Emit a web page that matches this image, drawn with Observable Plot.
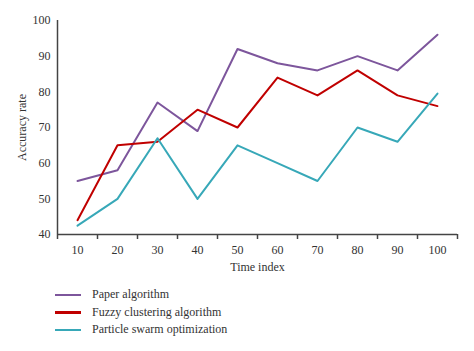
<!DOCTYPE html>
<html><head><meta charset="utf-8">
<script src="https://cdn.jsdelivr.net/npm/d3@7"></script>
<script src="https://cdn.jsdelivr.net/npm/@observablehq/plot@0.6"></script>
<style>
body{margin:0;background:#fff;font-family:"Liberation Serif","DejaVu Serif",serif;}
#legend{margin-left:55px;margin-top:4px;font-size:12px;color:#333;}
.item{display:flex;align-items:center;height:17.5px;}
.sw{width:26px;height:2.5px;margin-right:11px;}
</style></head><body>
<div id="chart"></div>
<div id="legend"></div>
<script>
const timeIndex = [10,20,30,40,50,60,70,80,90,100];
const paper = [55,58,77,69,92,88,86,90,86,96];
const fuzzy = [44,65,66,75,70,84,79,86,79,76];
const pso = [42.5,50,67,50,65,60,55,70,66,79.5];
const seriesNames = ["Paper algorithm","Fuzzy clustering algorithm","Particle swarm optimization"];
const colors = ["#7d569c","#c00000","#37a8b8"];
const yTicks = [40,50,60,70,80,90,100];
const bandEdges = [5,15,25,35,45,55,65,75,85,95,105];

const allSeries = [paper,fuzzy,pso];
const data = [];
allSeries.forEach((vals,i)=>vals.forEach((v,j)=>data.push({t:timeIndex[j],v,s:seriesNames[i]})));

const chart = Plot.plot({
  width:474, height:282,
  marginLeft:57, marginRight:17, marginTop:20, marginBottom:48,
  style:{fontFamily:"'Liberation Serif','DejaVu Serif',serif",fontSize:"12px",color:"#333"},
  x:{domain:[5,105]},
  y:{domain:[40,100]},
  color:{domain:seriesNames,range:colors},
  marks:[
    Plot.axisY({ticks:yTicks,tickSize:0,tickPadding:7,label:"Accuracy rate",labelAnchor:"center",labelOffset:40,labelArrow:"none",fontSize:12}),
    Plot.axisX({ticks:bandEdges,tickSize:5,tickFormat:()=>"",label:null,stroke:"#444",strokeWidth:1.5}),
    Plot.axisX({ticks:timeIndex,tickSize:0,tickPadding:11,label:"Time index",labelAnchor:"center",labelOffset:36,labelArrow:"none",fontSize:12}),
    Plot.ruleX([5],{stroke:"#444",strokeWidth:1.5}),
    Plot.ruleY([40],{stroke:"#444",strokeWidth:1.5}),
    Plot.line(data,{x:"t",y:"v",z:"s",stroke:"s",strokeWidth:2})
  ]
});
document.getElementById("chart").appendChild(chart);
const lg = document.getElementById("legend");
seriesNames.forEach((n,i)=>{
  const d=document.createElement("div");d.className="item";
  d.innerHTML=`<span class="sw" style="background:${colors[i]}"></span><span>${n}</span>`;
  lg.appendChild(d);
});
</script>
</body></html>
